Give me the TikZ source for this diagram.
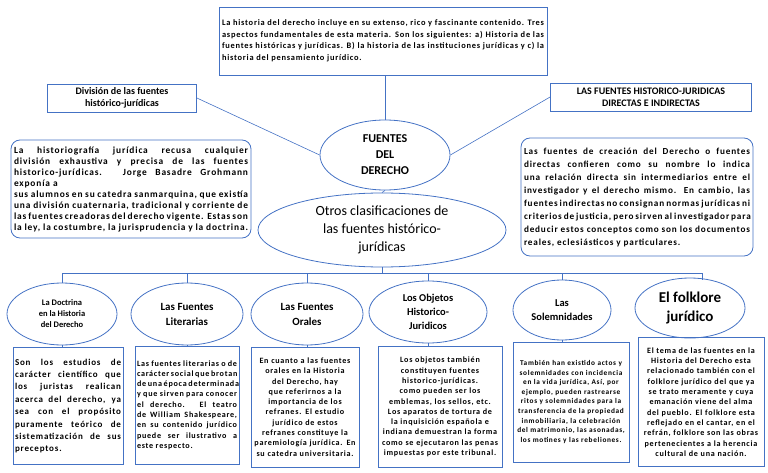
\documentclass[tikz,border=0pt]{standalone}
\usepackage{fontspec}
\setmainfont{Carlito}
\newfontfamily\wf[LetterSpace=9]{Carlito}
\usetikzlibrary{shapes.geometric}
\definecolor{bl}{RGB}{68,114,196}
\hyphenpenalty=10000
\exhyphenpenalty=10000
\begin{document}
\begin{tikzpicture}[x=1pt,y=-1pt,
 box/.style={draw=bl,line width=0.8pt,inner sep=3pt,font=\wf\bfseries\fontsize{8.4}{11.5}\selectfont},
 rbox/.style={box,rounded corners=9pt},
 tb/.style={draw=bl,line width=0.8pt,inner sep=3pt,align=center,font=\bfseries\fontsize{10}{12}\selectfont},
 ell/.style={draw=bl,line width=0.8pt,ellipse,inner sep=0pt,align=center,font=\bfseries\fontsize{8.5}{11}\selectfont},
 ln/.style={draw=bl,line width=0.6pt}]
\useasboundingbox (0,0) rectangle (768,473);
\node[box,text width=322pt,align=justify,minimum height=68pt] (top) at (383,41) {La historia del derecho incluye en su extenso, rico y fascinante contenido. Tres aspectos fundamentales de esta materia. Son los siguientes: a) Historia de las fuentes históricas y jurídicas. B) la historia de las instituciones jurídicas y c) la historia del pensamiento jurídico.};
\node[tb,minimum width=149pt,minimum height=28pt] (div) at (122,98) {División de las fuentes\\histórico-jurídicas};
\node[tb,minimum width=201pt,minimum height=28pt] (dir) at (651,97) {LAS FUENTES HISTORICO-JURIDICAS\\DIRECTAS E INDIRECTAS};
\node[rbox,text width=234pt,minimum height=98pt,align=justify,font=\wf\bfseries\fontsize{9.4}{11}\selectfont] (lr) at (131,189) {La historiografía jurídica recusa cualquier división exhaustiva y precisa de las fuentes historico-jurídicas. Jorge Basadre Grohmann exponía a\\ \centering sus alumnos en su catedra sanmarquina, que existía una división cuaternaria, tradicional y corriente de las fuentes creadoras del derecho vigente. Estas son la ley, la costumbre, la jurisprudencia y la doctrina.};
\node[rbox,text width=226pt,minimum height=118pt,align=justify,font=\wf\bfseries\fontsize{9.2}{13}\selectfont] (rr) at (637,197) {Las fuentes de creación del Derecho o fuentes directas confieren como su nombre lo indica una relación directa sin intermediarios entre el investigador y el derecho mismo. En cambio, las fuentes indirectas no consignan normas jurídicas ni criterios de justicia, pero sirven al investigador para deducir estos conceptos como son los documentos reales, eclesiásticos y particulares.};
\node[ell,minimum width=130pt,minimum height=70pt,font=\bfseries\fontsize{12}{16}\selectfont] (fd) at (385,155) {FUENTES\\DEL\\DERECHO};
\node[ell,minimum width=248pt,minimum height=74pt,font=\fontsize{14}{18}\selectfont] (ot) at (382,230) {Otros clasificaciones de\\las fuentes histórico-\\jurídicas};
\draw[ln] (top.south -| fd.north) -- (fd.north);
\draw[ln] (div.east) -- (fd.west);
\draw[ln] (dir.west) -- (fd.east);
\draw[ln] (fd.south) -- (ot.north);
\coordinate (bus) at (382,273);
\node[ell,minimum width=110pt,minimum height=62pt,font=\bfseries\fontsize{8.5}{11}\selectfont] (e1) at (62,314) {La Doctrina\\en la Historia\\del Derecho};
\node[ell,minimum width=112pt,minimum height=62pt,font=\bfseries\fontsize{11}{15}\selectfont] (e2) at (187,314) {Las Fuentes\\Literarias};
\node[ell,minimum width=112pt,minimum height=62pt,font=\bfseries\fontsize{11}{15}\selectfont] (e3) at (307,314) {Las Fuentes\\Orales};
\node[ell,minimum width=118pt,minimum height=62pt,font=\bfseries\fontsize{10.5}{14}\selectfont] (e4) at (428,312) {Los Objetos\\Historico-\\Juridicos};
\node[ell,minimum width=98pt,minimum height=60pt,font=\bfseries\fontsize{10.5}{14}\selectfont] (e5) at (562,310) {Las\\Solemnidades};
\node[ell,minimum width=110pt,minimum height=60pt,font=\bfseries\fontsize{15}{19}\selectfont] (e6) at (690,308) {El folklore\\jurídico};
\draw[ln] (ot.south) -- (bus);
\draw[ln] (e1.north) -- (62,273) -- (702,273) -- (702,280);
\foreach \n in {e2,e3,e4,e5} \draw[ln] (\n.north) -- (\n.north |- bus);
\tikzset{sb/.style={box,inner sep=2pt,font=\wf\bfseries\fontsize{8.1}{10.3}\selectfont}}
\node[sb,text width=106pt,minimum height=117pt,align=justify,font=\wf\bfseries\fontsize{9}{12.4}\selectfont] (b1) at (68,406) {Son los estudios de carácter científico que los juristas realican acerca del derecho, ya sea con el propósito puramente teórico de sistematización de sus preceptos.};
\node[sb,text width=100pt,minimum height=118pt,align=justify] (b2) at (187,405) {Las fuentes literarias o de carácter social que brotan de una época determinada y que sirven para conocer el derecho. El teatro de William Shakespeare, en su contenido jurídico puede ser ilustrativo a este respecto.};
\node[sb,text width=104pt,minimum height=120pt,align=center] (b3) at (305,407) {En cuanto a las fuentes orales en la Historia del Derecho, hay que referirnos a la importancia de los refranes. El estudio jurídico de estos refranes constituye la paremiología jurídica. En su catedra universitaria.};
\node[sb,text width=120pt,minimum height=121pt,align=center] (b4) at (440,407) {Los objetos también constituyen fuentes historico-jurídicas. como pueden ser los emblemas, los sellos, etc. Los aparatos de tortura de la inquisición española e indiana demuestran la forma como se ejecutaron las penas impuestas por este tribunal.};
\node[sb,text width=112pt,minimum height=120pt,align=center,font=\wf\bfseries\fontsize{7.3}{9.6}\selectfont] (b5) at (571,402) {También han existido actos y solemnidades con incidencia en la vida jurídica, Así, por ejemplo, pueden rastrearse ritos y solemnidades para la transferencia de la propiedad inmobiliaria, la celebración del matrimonio, las asonadas, los motines y las rebeliones.};
\node[sb,text width=122pt,minimum height=129pt,align=center] (b6) at (701,402) {El tema de las fuentes en la Historia del Derecho esta relacionado también con el folklore jurídico del que ya se trato meramente y cuya emanación viene del alma del pueblo. El folklore esta reflejado en el cantar, en el refrán, folklore son las obras pertenecientes a la herencia cultural de una nación.};
\draw[ln] (e1.south) -- (e1.south |- b1.north);
\draw[ln] (e2.south) -- (e2.south |- b2.north);
\draw[ln] (e3.south) -- (e3.south |- b3.north);
\draw[ln] (e4.south) -- (e4.south |- b4.north);
\draw[ln] (e5.south) -- (e5.south |- b5.north);
\draw[ln] (e6.south) -- (e6.south |- b6.north);
\end{tikzpicture}
\end{document}
